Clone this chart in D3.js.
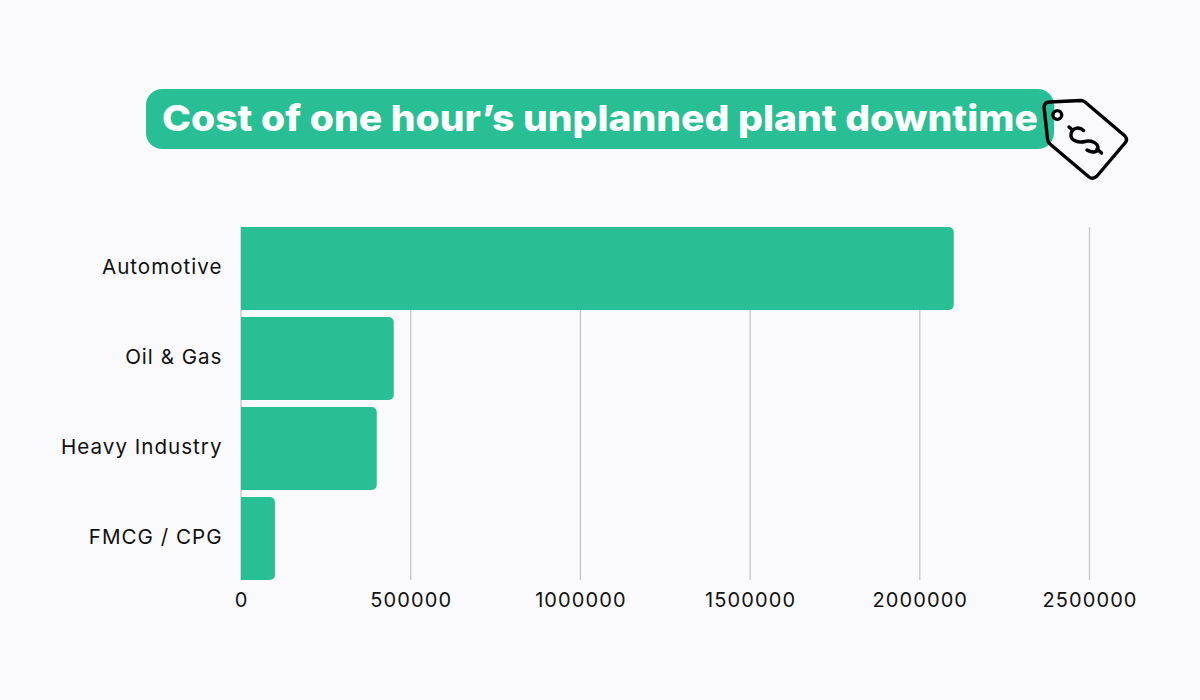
<!DOCTYPE html>
<html><head><meta charset="utf-8">
<script src="https://cdn.jsdelivr.net/npm/d3@7"></script>
<style>html,body{margin:0;padding:0;background:#fafafc}svg{display:block}</style>
</head><body><svg id="c" width="1200" height="700"></svg>
<script>
const categories = ["Automotive","Oil & Gas","Heavy Industry","FMCG / CPG"];
const values = [2100000,450000,400000,100000];
const xTicks = [0,500000,1000000,1500000,2000000,2500000];
const titleText = "Cost of one hour’s unplanned plant downtime";

const svg = d3.select("#c");
const green = "#28bf94";
svg.append("rect").attr("width",1200).attr("height",700).attr("fill","#fafafc");

svg.append("rect").attr("x",146).attr("y",89).attr("width",908).attr("height",60).attr("rx",16).attr("fill",green);
svg.append("text").attr("x",162).attr("y",131).attr("fill","#fff")
  .attr("font-family","Inter").attr("font-weight",800).attr("font-size",35.5)
  .attr("textLength",876).attr("lengthAdjust","spacingAndGlyphs").text(titleText);

const x = d3.scaleLinear().domain([0,2500000]).range([241,1089.5]);
const y = d3.scaleBand().domain(categories).range([227,580]).paddingInner(7/90).paddingOuter(0);

svg.append("g").selectAll("line").data(xTicks).join("line")
  .attr("x1",d=>x(d)).attr("x2",d=>x(d)).attr("y1",227).attr("y2",580)
  .attr("stroke","#c6c6c9").attr("stroke-width",1.3);

const r = 5;
svg.append("g").selectAll("path").data(categories).join("path")
  .attr("fill",green)
  .attr("d",(c,i)=>{
    const x0=x(0), x1=x(values[i]), y0=y(c), y1=y0+y.bandwidth();
    return `M${x0},${y0}H${x1-r}A${r},${r} 0 0 1 ${x1},${y0+r}V${y1-r}A${r},${r} 0 0 1 ${x1-r},${y1}H${x0}Z`;
  });

svg.append("g").selectAll("text").data(categories).join("text")
  .attr("x",222.5).attr("y",c=>y(c)+y.bandwidth()/2+5.5).attr("text-anchor","end")
  .attr("font-family","Inter").attr("font-size",20.6).attr("letter-spacing",1.0).attr("fill","#111").text(c=>c);

svg.append("g").selectAll("text").data(xTicks).join("text")
  .attr("x",d=>x(d)+0.5).attr("y",607).attr("text-anchor","middle")
  .attr("font-family","Inter").attr("font-size",20).attr("letter-spacing",1.1).attr("fill","#111").text(d=>d);

// price-tag icon
const icon = svg.append("g").attr("fill","none").attr("stroke","#000").attr("stroke-width",3.4)
  .attr("stroke-linecap","round").attr("stroke-linejoin","round");
icon.append("path").attr("d","M1049,102 L1081,100.5 Q1083,100.5 1085,102 L1125,136 Q1128,140 1125,143 L1097,176 Q1093,180 1089,177 L1050,144 Q1048,142 1047.5,139 L1044,107 Q1045,102 1049,102 Z");
icon.append("circle").attr("cx",1057.3).attr("cy",115).attr("r",4.4);
icon.append("path").attr("d","M1083.5,130.5 C1079,126 1072,128 1071,134 C1070,141 1079,143 1085,141.5 C1091,140 1098,143 1098,148 C1098,153 1092,153 1087,150");
icon.append("path").attr("d","M1069,127 L1072.5,130 M1097,149 L1101.5,153");
</script></body></html>
